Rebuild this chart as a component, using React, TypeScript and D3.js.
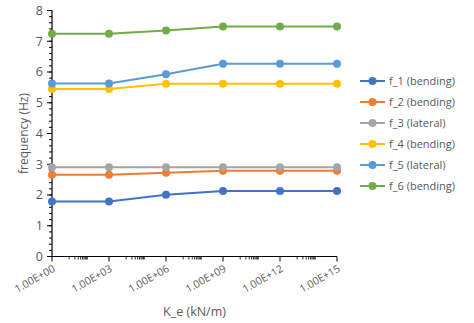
import React from "react";
import * as d3 from "d3";

const xValues = [1e0, 1e3, 1e6, 1e9, 1e12, 1e15];
const xTickLabels = ["1.00E+00", "1.00E+03", "1.00E+06", "1.00E+09", "1.00E+12", "1.00E+15"];
const yTicks = [0, 1, 2, 3, 4, 5, 6, 7, 8];

const seriesNames = ["f_1 (bending)", "f_2 (bending)", "f_3 (lateral)", "f_4 (bending)", "f_5 (lateral)", "f_6 (bending)"];
const seriesColors = ["#4472C4", "#ED7D31", "#A5A5A5", "#FFC000", "#5B9BD5", "#70AD47"];
const f1 = [1.79, 1.79, 2.01, 2.13, 2.13, 2.13];
const f2 = [2.66, 2.66, 2.72, 2.79, 2.79, 2.79];
const f3 = [2.9, 2.9, 2.9, 2.9, 2.9, 2.9];
const f4 = [5.45, 5.45, 5.62, 5.62, 5.62, 5.62];
const f5 = [5.63, 5.63, 5.93, 6.27, 6.27, 6.27];
const f6 = [7.24, 7.24, 7.35, 7.48, 7.48, 7.48];
const seriesValues = [f1, f2, f3, f4, f5, f6];

const W = 474;
const H = 323;
const left = 52;
const right = 337;
const top = 10.5;
const bottom = 256.5;

export default function App() {
  const x = d3.scaleLog().base(10).domain([1, 1e15]).range([left, right]);
  const y = d3.scaleLinear().domain([0, 8]).range([bottom, top]);
  const line = d3
    .line<number>()
    .x((_, i) => x(xValues[i]))
    .y((d) => y(d));

  const yMinor: number[] = [];
  for (let v = 0; v <= 8.0001; v += 0.2) yMinor.push(+v.toFixed(1));

  const xMinor: number[] = [];
  for (let k = 0; k < 5; k++) {
    for (let m = 8; m <= 72; m += 8) xMinor.push(m * Math.pow(1000, k));
  }

  const font = "'Open Sans', 'Liberation Sans', Arial, sans-serif";
  const textColor = "#595959";

  return (
    <svg width={W} height={H} style={{ position: "absolute", left: 0, top: 0, background: "#fff" }} fontFamily={font}>
      {yMinor.map((v, i) => (
        <line key={"ym" + i} x1={left - 3} x2={left} y1={y(v)} y2={y(v)} stroke="#000" strokeWidth={1} />
      ))}
      {yTicks.map((v) => (
        <g key={"yt" + v}>
          <line x1={left - 5} x2={left} y1={y(v)} y2={y(v)} stroke="#000" strokeWidth={1} />
          <text x={left - 9} y={y(v)} dy="0.35em" textAnchor="end" fontSize={12.5} fill={textColor}>
            {v}
          </text>
        </g>
      ))}
      {xMinor.map((v, i) => (
        <line key={"xm" + i} x1={x(v)} x2={x(v)} y1={bottom} y2={bottom + 3} stroke="#000" strokeWidth={0.8} />
      ))}
      {xValues.map((v, i) => (
        <g key={"xt" + i}>
          <line x1={x(v)} x2={x(v)} y1={bottom} y2={bottom + 5} stroke="#000" strokeWidth={1} />
          <text
            transform={`translate(${x(v) + 2},${bottom + 11}) rotate(-30)`}
            textAnchor="end"
            fontSize={10.5}
            fill={textColor}
            dy="0.35em"
          >
            {xTickLabels[i]}
          </text>
        </g>
      ))}
      <line x1={left} x2={left} y1={top} y2={bottom} stroke="#000" strokeWidth={1.2} />
      <line x1={left} x2={right} y1={bottom} y2={bottom} stroke="#000" strokeWidth={1.2} />

      <text transform={`translate(24,${(top + bottom) / 2}) rotate(-90)`} textAnchor="middle" fontSize={12} fill={textColor} dy="0.35em">
        frequency (Hz)
      </text>
      <text x={(left + right) / 2} y={312} textAnchor="middle" fontSize={12.5} fill={textColor} dy="0.35em">
        K_e (kN/m)
      </text>

      {seriesValues.map((vals, s) => (
        <g key={"s" + s}>
          <path d={line(vals) || ""} fill="none" stroke={seriesColors[s]} strokeWidth={2} />
          {vals.map((v, i) => (
            <circle key={i} cx={x(xValues[i])} cy={y(v)} r={4} fill={seriesColors[s]} />
          ))}
        </g>
      ))}

      {seriesNames.map((name, s) => {
        const ly = 81 + s * 21;
        return (
          <g key={"l" + s}>
            <line x1={360} x2={385} y1={ly} y2={ly} stroke={seriesColors[s]} strokeWidth={2} />
            <circle cx={372.5} cy={ly} r={4} fill={seriesColors[s]} />
            <text x={389} y={ly} dy="0.35em" fontSize={11} fill={textColor}>
              {name}
            </text>
          </g>
        );
      })}
    </svg>
  );
}
